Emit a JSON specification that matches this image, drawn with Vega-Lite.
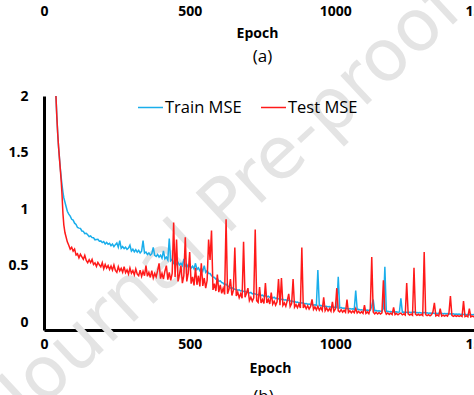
{
"$schema": "https://vega.github.io/schema/vega-lite/v6.json",
"autosize": {"type": "none"},
"padding": {"left": 44, "top": 96, "right": 0, "bottom": 70},
"width": 437,
"height": 234,
"background": "white",
"data": {"values": [
{"e":35,"tr":2.5,"te":2.5},{"e":38,"tr":2.22,"te":2.22},{"e":41,"tr":2.0,"te":2.0},{"e":44,"tr":1.82,"te":1.82},
{"e":47,"tr":1.67,"te":1.67},{"e":50,"tr":1.55,"te":1.55},{"e":53,"tr":1.45,"te":1.45},{"e":56,"tr":1.36,"te":1.35},
{"e":59,"tr":1.28,"te":1.25},{"e":62,"tr":1.21,"te":1.12},{"e":65,"tr":1.15,"te":0.96},{"e":68,"tr":1.1,"te":0.86},
{"e":72,"tr":1.06,"te":0.79},{"e":76,"tr":1.02,"te":0.75},{"e":80,"tr":0.98,"te":0.71},{"e":85,"tr":0.955,"te":0.68},
{"e":90,"tr":0.937,"te":0.645},{"e":95,"tr":0.909,"te":0.662},{"e":100,"tr":0.902,"te":0.627},{"e":105,"tr":0.875,"te":0.646},
{"e":110,"tr":0.864,"te":0.594},{"e":115,"tr":0.837,"te":0.604},{"e":120,"tr":0.831,"te":0.568},{"e":125,"tr":0.829,"te":0.6},
{"e":130,"tr":0.806,"te":0.577},{"e":135,"tr":0.803,"te":0.555},{"e":140,"tr":0.783,"te":0.59},{"e":145,"tr":0.786,"te":0.546},
{"e":150,"tr":0.772,"te":0.525},{"e":155,"tr":0.756,"te":0.552},{"e":160,"tr":0.762,"te":0.527},{"e":165,"tr":0.747,"te":0.554},
{"e":170,"tr":0.746,"te":0.509},{"e":175,"tr":0.728,"te":0.524},{"e":180,"tr":0.731,"te":0.493},{"e":185,"tr":0.733,"te":0.528},
{"e":190,"tr":0.716,"te":0.507},{"e":195,"tr":0.718,"te":0.488},{"e":200,"tr":0.703,"te":0.525},{"e":205,"tr":0.712,"te":0.472},
{"e":210,"tr":0.69,"te":0.51},{"e":215,"tr":0.704,"te":0.478},{"e":220,"tr":0.688,"te":0.5},{"e":225,"tr":0.697,"te":0.465},
{"e":230,"tr":0.676,"te":0.495},{"e":235,"tr":0.69,"te":0.46},{"e":240,"tr":0.668,"te":0.505},{"e":245,"tr":0.685,"te":0.458},
{"e":250,"tr":0.7,"te":0.44},{"e":255,"tr":0.662,"te":0.49},{"e":260,"tr":0.72,"te":0.452},{"e":265,"tr":0.652,"te":0.475},
{"e":270,"tr":0.668,"te":0.44},{"e":275,"tr":0.65,"te":0.49},{"e":280,"tr":0.662,"te":0.438},{"e":285,"tr":0.643,"te":0.462},
{"e":290,"tr":0.655,"te":0.425},{"e":295,"tr":0.68,"te":0.478},{"e":300,"tr":0.628,"te":0.432},{"e":305,"tr":0.645,"te":0.455},
{"e":310,"tr":0.622,"te":0.418},{"e":315,"tr":0.64,"te":0.47},{"e":320,"tr":0.618,"te":0.425},{"e":325,"tr":0.635,"te":0.41},
{"e":330,"tr":0.612,"te":0.46},{"e":335,"tr":0.628,"te":0.405},{"e":340,"tr":0.72,"te":0.45},{"e":345,"tr":0.61,"te":0.41},
{"e":350,"tr":0.62,"te":0.5},{"e":355,"tr":0.598,"te":0.405},{"e":360,"tr":0.612,"te":0.44},{"e":365,"tr":0.592,"te":0.395},
{"e":370,"tr":0.605,"te":0.455},{"e":375,"tr":0.66,"te":0.39},{"e":380,"tr":0.59,"te":0.43},{"e":385,"tr":0.58,"te":0.4},
{"e":390,"tr":0.598,"te":0.455},{"e":395,"tr":0.575,"te":0.52},{"e":400,"tr":0.592,"te":0.385},{"e":405,"tr":0.565,"te":0.43},
{"e":410,"tr":0.63,"te":0.38},{"e":415,"tr":0.56,"te":0.45},{"e":420,"tr":0.575,"te":0.5},{"e":425,"tr":0.55,"te":0.375},
{"e":430,"tr":0.74,"te":0.44},{"e":435,"tr":0.542,"te":0.37},{"e":440,"tr":0.555,"te":0.43},{"e":445,"tr":0.52,"te":0.88},
{"e":450,"tr":0.535,"te":0.4},{"e":455,"tr":0.51,"te":0.73},{"e":460,"tr":0.528,"te":0.36},{"e":465,"tr":0.505,"te":0.42},
{"e":470,"tr":0.52,"te":0.5},{"e":475,"tr":0.5,"te":0.345},{"e":480,"tr":0.56,"te":0.41},{"e":485,"tr":0.495,"te":0.75},
{"e":490,"tr":0.51,"te":0.36},{"e":495,"tr":0.485,"te":0.43},{"e":500,"tr":0.5,"te":0.62},{"e":505,"tr":0.478,"te":0.34},
{"e":510,"tr":0.495,"te":0.4},{"e":515,"tr":0.47,"te":0.325},{"e":520,"tr":0.52,"te":0.48},{"e":525,"tr":0.465,"te":0.33},
{"e":530,"tr":0.48,"te":0.41},{"e":535,"tr":0.455,"te":0.315},{"e":540,"tr":0.475,"te":0.52},{"e":545,"tr":0.45,"te":0.32},
{"e":550,"tr":0.5,"te":0.39},{"e":555,"tr":0.44,"te":0.3},{"e":560,"tr":0.455,"te":0.37},{"e":565,"tr":0.43,"te":0.73},
{"e":570,"tr":0.43,"te":0.55},{"e":575,"tr":0.41,"te":0.81},{"e":580,"tr":0.4,"te":0.285},{"e":585,"tr":0.395,"te":0.34},
{"e":590,"tr":0.38,"te":0.275},{"e":595,"tr":0.385,"te":0.42},{"e":600,"tr":0.36,"te":0.265},{"e":605,"tr":0.365,"te":0.33},
{"e":610,"tr":0.35,"te":0.255},{"e":615,"tr":0.345,"te":0.3},{"e":620,"tr":0.33,"te":0.245},{"e":625,"tr":0.335,"te":0.91},
{"e":630,"tr":0.32,"te":0.25},{"e":635,"tr":0.315,"te":0.29},{"e":640,"tr":0.3,"te":0.38},{"e":645,"tr":0.305,"te":0.235},
{"e":650,"tr":0.295,"te":0.28},{"e":655,"tr":0.29,"te":0.66},{"e":660,"tr":0.288,"te":0.23},{"e":665,"tr":0.282,"te":0.265},
{"e":670,"tr":0.285,"te":0.215},{"e":675,"tr":0.275,"te":0.25},{"e":680,"tr":0.28,"te":0.21},{"e":685,"tr":0.27,"te":0.71},
{"e":690,"tr":0.272,"te":0.22},{"e":695,"tr":0.265,"te":0.255},{"e":700,"tr":0.262,"te":0.3},{"e":705,"tr":0.258,"te":0.19},
{"e":710,"tr":0.262,"te":0.22},{"e":715,"tr":0.25,"te":0.185},{"e":720,"tr":0.255,"te":0.215},{"e":725,"tr":0.248,"te":0.82},
{"e":730,"tr":0.245,"te":0.19},{"e":735,"tr":0.24,"te":0.175},{"e":740,"tr":0.25,"te":0.31},{"e":745,"tr":0.235,"te":0.17},
{"e":750,"tr":0.238,"te":0.2},{"e":755,"tr":0.228,"te":0.165},{"e":760,"tr":0.235,"te":0.345},{"e":765,"tr":0.222,"te":0.17},
{"e":770,"tr":0.23,"te":0.2},{"e":775,"tr":0.218,"te":0.16},{"e":780,"tr":0.225,"te":0.26},{"e":785,"tr":0.212,"te":0.158},
{"e":790,"tr":0.22,"te":0.185},{"e":795,"tr":0.208,"te":0.15},{"e":800,"tr":0.212,"te":0.18},{"e":805,"tr":0.205,"te":0.38},
{"e":810,"tr":0.208,"te":0.15},{"e":815,"tr":0.2,"te":0.39},{"e":820,"tr":0.202,"te":0.148},{"e":825,"tr":0.195,"te":0.17},
{"e":830,"tr":0.198,"te":0.14},{"e":835,"tr":0.19,"te":0.19},{"e":840,"tr":0.195,"te":0.25},{"e":845,"tr":0.185,"te":0.138},
{"e":850,"tr":0.188,"te":0.165},{"e":855,"tr":0.18,"te":0.38},{"e":860,"tr":0.183,"te":0.132},{"e":865,"tr":0.175,"te":0.155},
{"e":870,"tr":0.178,"te":0.128},{"e":875,"tr":0.17,"te":0.16},{"e":880,"tr":0.173,"te":0.125},{"e":885,"tr":0.168,"te":0.66},
{"e":890,"tr":0.17,"te":0.125},{"e":895,"tr":0.162,"te":0.15},{"e":900,"tr":0.165,"te":0.118},{"e":905,"tr":0.158,"te":0.145},
{"e":910,"tr":0.16,"te":0.115},{"e":915,"tr":0.155,"te":0.138},{"e":920,"tr":0.158,"te":0.2},{"e":925,"tr":0.15,"te":0.112},
{"e":930,"tr":0.153,"te":0.135},{"e":935,"tr":0.148,"te":0.108},{"e":940,"tr":0.46,"te":0.14},{"e":945,"tr":0.145,"te":0.105},
{"e":950,"tr":0.148,"te":0.128},{"e":955,"tr":0.14,"te":0.103},{"e":960,"tr":0.143,"te":0.22},{"e":965,"tr":0.137,"te":0.1},
{"e":970,"tr":0.14,"te":0.125},{"e":975,"tr":0.135,"te":0.098},{"e":980,"tr":0.138,"te":0.12},{"e":985,"tr":0.132,"te":0.096},
{"e":990,"tr":0.135,"te":0.18},{"e":995,"tr":0.13,"te":0.094},{"e":1000,"tr":0.133,"te":0.115},{"e":1005,"tr":0.128,"te":0.3},
{"e":1010,"tr":0.4,"te":0.1},{"e":1015,"tr":0.125,"te":0.09},{"e":1020,"tr":0.128,"te":0.11},{"e":1025,"tr":0.122,"te":0.088},
{"e":1030,"tr":0.125,"te":0.105},{"e":1035,"tr":0.12,"te":0.087},{"e":1040,"tr":0.122,"te":0.2},{"e":1045,"tr":0.117,"te":0.085},
{"e":1050,"tr":0.12,"te":0.1},{"e":1055,"tr":0.115,"te":0.083},{"e":1060,"tr":0.117,"te":0.098},{"e":1065,"tr":0.112,"te":0.082},
{"e":1070,"tr":0.28,"te":0.12},{"e":1075,"tr":0.11,"te":0.08},{"e":1080,"tr":0.113,"te":0.095},{"e":1085,"tr":0.108,"te":0.079},
{"e":1090,"tr":0.11,"te":0.092},{"e":1095,"tr":0.106,"te":0.077},{"e":1100,"tr":0.108,"te":0.15},{"e":1105,"tr":0.104,"te":0.076},
{"e":1110,"tr":0.106,"te":0.09},{"e":1115,"tr":0.102,"te":0.075},{"e":1120,"tr":0.104,"te":0.12},{"e":1125,"tr":0.14,"te":0.575},
{"e":1130,"tr":0.2,"te":0.09},{"e":1135,"tr":0.1,"te":0.073},{"e":1140,"tr":0.102,"te":0.086},{"e":1145,"tr":0.098,"te":0.072},
{"e":1150,"tr":0.1,"te":0.084},{"e":1155,"tr":0.096,"te":0.071},{"e":1160,"tr":0.098,"te":0.082},{"e":1165,"tr":0.12,"te":0.37},
{"e":1170,"tr":0.49,"te":0.1},{"e":1175,"tr":0.094,"te":0.069},{"e":1180,"tr":0.096,"te":0.08},{"e":1185,"tr":0.092,"te":0.068},
{"e":1190,"tr":0.094,"te":0.078},{"e":1195,"tr":0.09,"te":0.067},{"e":1200,"tr":0.092,"te":0.13},{"e":1205,"tr":0.089,"te":0.066},
{"e":1210,"tr":0.091,"te":0.076},{"e":1215,"tr":0.088,"te":0.065},{"e":1220,"tr":0.09,"te":0.075},{"e":1225,"tr":0.21,"te":0.08},
{"e":1230,"tr":0.087,"te":0.064},{"e":1235,"tr":0.089,"te":0.073},{"e":1240,"tr":0.086,"te":0.063},{"e":1245,"tr":0.088,"te":0.345},
{"e":1250,"tr":0.085,"te":0.072},{"e":1255,"tr":0.087,"te":0.062},{"e":1260,"tr":0.084,"te":0.071},{"e":1265,"tr":0.086,"te":0.061},
{"e":1270,"tr":0.09,"te":0.48},{"e":1275,"tr":0.083,"te":0.07},{"e":1280,"tr":0.085,"te":0.06},{"e":1285,"tr":0.082,"te":0.069},
{"e":1290,"tr":0.084,"te":0.059},{"e":1295,"tr":0.081,"te":0.068},{"e":1300,"tr":0.083,"te":0.058},{"e":1305,"tr":0.085,"te":0.62},
{"e":1310,"tr":0.08,"te":0.067},{"e":1315,"tr":0.082,"te":0.057},{"e":1320,"tr":0.079,"te":0.066},{"e":1325,"tr":0.081,"te":0.056},
{"e":1330,"tr":0.078,"te":0.065},{"e":1335,"tr":0.08,"te":0.09},{"e":1340,"tr":0.077,"te":0.17},{"e":1345,"tr":0.079,"te":0.055},
{"e":1350,"tr":0.076,"te":0.064},{"e":1355,"tr":0.078,"te":0.054},{"e":1360,"tr":0.075,"te":0.12},{"e":1365,"tr":0.077,"te":0.053},
{"e":1370,"tr":0.074,"te":0.062},{"e":1375,"tr":0.076,"te":0.053},{"e":1380,"tr":0.073,"te":0.061},{"e":1385,"tr":0.075,"te":0.052},
{"e":1390,"tr":0.072,"te":0.08},{"e":1395,"tr":0.074,"te":0.23},{"e":1400,"tr":0.071,"te":0.06},{"e":1405,"tr":0.073,"te":0.051},
{"e":1410,"tr":0.07,"te":0.059},{"e":1415,"tr":0.072,"te":0.05},{"e":1420,"tr":0.069,"te":0.058},{"e":1425,"tr":0.071,"te":0.05},
{"e":1430,"tr":0.068,"te":0.057},{"e":1435,"tr":0.07,"te":0.049},{"e":1440,"tr":0.068,"te":0.185},{"e":1445,"tr":0.069,"te":0.049},
{"e":1450,"tr":0.066,"te":0.056},{"e":1455,"tr":0.068,"te":0.048},{"e":1460,"tr":0.065,"te":0.12},{"e":1465,"tr":0.067,"te":0.047},
{"e":1470,"tr":0.064,"te":0.054},{"e":1475,"tr":0.066,"te":0.047},{"e":1480,"tr":0.063,"te":0.053},{"e":1485,"tr":0.065,"te":0.046},
{"e":1490,"tr":0.062,"te":0.052},{"e":1495,"tr":0.064,"te":0.045},{"e":1500,"tr":0.062,"te":0.05}
]},
"resolve": {"axis": {"x": "independent", "y": "independent"}},
"layer": [
{
"data": {"values": [{"label": "Journal Pre-proof"}]},
"mark": {"type": "text", "angle": -43, "fontSize": 72, "font": "DejaVu Sans", "color": "#e4e4e4", "align": "center", "baseline": "middle"},
"encoding": {
"text": {"field": "label"},
"x": {"datum": 644, "type": "quantitative", "scale": {"domain": [0, 1500], "nice": false}, "axis": null},
"y": {"datum": 1.073, "type": "quantitative", "scale": {"domain": [-0.07, 2], "nice": false, "zero": false}, "axis": null}
}
},
{
"mark": {"type": "line", "clip": true, "strokeWidth": 1.5},
"encoding": {
"x": {"field": "e", "type": "quantitative", "scale": {"domain": [0, 1500], "nice": false},
"axis": {"orient": "bottom", "values": [0, 500, 1000, 1500], "format": "d", "labelPadding": 7, "title": "Epoch", "titleX": 226, "titleY": 42, "titleBaseline": "alphabetic", "titleAlign": "center"}},
"y": {"field": "tr", "type": "quantitative", "scale": {"domain": [-0.07, 2], "nice": false, "zero": false},
"axis": {"orient": "left", "values": [0, 0.5, 1, 1.5, 2], "format": "~g", "labelPadding": 16, "title": null, "domain": true, "domainColor": "black", "domainWidth": 3}},
"color": {"datum": "Train MSE", "type": "nominal",
"scale": {"domain": ["Train MSE", "Test MSE"], "range": ["#1AAEEB", "#FF1A1A"]},
"legend": {"orient": "none", "legendX": 93, "legendY": -2, "direction": "horizontal", "title": null, "symbolType": "stroke", "symbolSize": 625, "symbolStrokeWidth": 1.5, "labelFont": "Open Sans", "labelFontSize": 16.5, "labelColor": "black", "labelOffset": 1, "columnPadding": 16, "padding": 0}}
}
},
{
"mark": {"type": "line", "clip": true, "strokeWidth": 1.5},
"encoding": {
"x": {"field": "e", "type": "quantitative", "scale": {"domain": [0, 1500], "nice": false}, "axis": null},
"y": {"field": "te", "type": "quantitative", "scale": {"domain": [-0.07, 2], "nice": false, "zero": false}, "axis": null},
"color": {"datum": "Test MSE", "type": "nominal",
"scale": {"domain": ["Train MSE", "Test MSE"], "range": ["#1AAEEB", "#FF1A1A"]},
"legend": {"orient": "none", "legendX": 93, "legendY": -2, "direction": "horizontal", "title": null, "symbolType": "stroke", "symbolSize": 625, "symbolStrokeWidth": 1.5, "labelFont": "Open Sans", "labelFontSize": 16.5, "labelColor": "black", "labelOffset": 1, "columnPadding": 16, "padding": 0}}
}
},
{
"mark": {"type": "point", "opacity": 0},
"encoding": {
"x": {"field": "e", "type": "quantitative", "scale": {"domain": [0, 1500], "nice": false},
"axis": {"orient": "top", "values": [0, 500, 1000, 1500], "format": "d", "domain": false, "labelPadding": 81, "labelBaseline": "alphabetic", "title": "Epoch", "titleX": 213, "titleY": -58.5, "titleBaseline": "alphabetic", "titleAlign": "center"}}
}
},
{
"mark": {"type": "point", "opacity": 0},
"encoding": {
"x": {"field": "e", "type": "quantitative", "scale": {"domain": [0, 1500], "nice": false},
"axis": {"orient": "top", "labels": false, "domain": false, "title": "(a)", "titleFontWeight": "normal", "titleFontSize": 17, "titleX": 218, "titleY": -35, "titleBaseline": "alphabetic", "titleAlign": "center"}}
}
},
{
"mark": {"type": "point", "opacity": 0},
"encoding": {
"x": {"field": "e", "type": "quantitative", "scale": {"domain": [0, 1500], "nice": false},
"axis": {"orient": "bottom", "labels": false, "domain": false, "title": "(b)", "titleFontWeight": "normal", "titleFontSize": 17, "titleX": 219, "titleY": 71, "titleBaseline": "alphabetic", "titleAlign": "center"}}
}
}
],
"config": {
"view": {"stroke": null},
"axis": {"labelFlush": false, "labelOverlap": false, "grid": false, "ticks": false, "tickSize": 0, "domainColor": "black", "domainWidth": 3, "labelFont": "Open Sans", "labelFontWeight": "bold", "labelFontSize": 14, "labelColor": "black", "titleFont": "Open Sans", "titleFontWeight": "bold", "titleFontSize": 14, "titleColor": "black"}
}
}
